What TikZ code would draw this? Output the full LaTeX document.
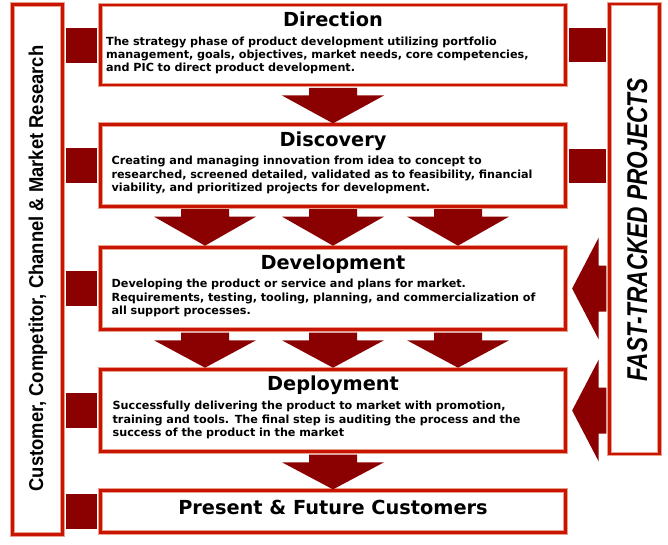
\documentclass[tikz,border=0pt]{standalone}
\usepackage{fontspec}
\setmainfont{DejaVu Sans}
\newfontfamily\labelfont{Liberation Sans}
\usetikzlibrary{calc}
\definecolor{linkred}{RGB}{139,0,0}
\definecolor{edgered}{RGB}{200,20,0}
\definecolor{edgepink}{RGB}{232,160,140}

\begin{document}
\begin{tikzpicture}[x=0.75pt,y=-0.75pt]
        % Define styles for shapes
        \tikzstyle{stagebox} = [draw=edgepink, double=edgered, double distance=2.2pt, line width=0.7pt, fill=white, minimum width=349pt, inner sep=0pt]
        \tikzstyle{sidebar} = [stagebox, minimum width=38pt]
        \tikzstyle{titletext} = [font=\bfseries\fontsize{14.5}{16}\selectfont, inner sep=0pt, anchor=base]
        \tikzstyle{bodytext} = [font=\bfseries\fontsize{8.4}{10}\selectfont, inner sep=0pt, anchor=north west, text width=340pt, align=left]
        \tikzstyle{linkbar} = [fill=linkred]
        \useasboundingbox (0,0) rectangle (668,544);

        % Draw bars and stages
        \node[sidebar, minimum height=398pt] (market) at (37.5,269.5) {};
        \node[sidebar, minimum height=337.5pt] (fast) at (634.5,229) {};
        \node[stagebox, minimum height=60pt] (dir) at (333,45) {};
        \node[stagebox, minimum height=61pt] (disc) at (333,165.5) {};
        \node[stagebox, minimum height=62pt] (dev) at (333,288.5) {};
        \node[stagebox, minimum height=62pt] (dep) at (333,410.5) {};
        \node[stagebox, minimum height=31pt] (cust) at (333,511.5) {};

        % Texts
        \node[titletext] (dirtitle) at ($(dir.north)+(0,22)$) {Direction};
        \node[bodytext] (dirtext) at ($(dir.north west)+(6,31.7)$) {
            The strategy phase of product development utilizing portfolio\\
            management, goals, objectives, market needs, core competencies,\\
            and PIC to direct product development.};
        \node[titletext] (disctitle) at ($(disc.north)+(0,22)$) {Discovery};
        \node[bodytext] (disctext) at ($(disc.north west)+(11.5,31.7)$) {
            Creating and managing innovation from idea to concept to\\
            researched, screened detailed, validated as to feasibility, financial\\
            viability, and prioritized projects for development.};
        \node[titletext] (devtitle) at ($(dev.north)+(0,23)$) {Development};
        \node[bodytext] (devtext) at ($(dev.north west)+(11.5,32.3)$) {
            Developing the product or service and plans for market.\\
            Requirements, testing, tooling, planning, and commercialization of\\
            all support processes.};
        \node[titletext] (deptitle) at ($(dep.north)+(0,22)$) {Deployment};
        \node[bodytext] (deptext) at ($(dep.north west)+(12.5,32.3)$) {
            Successfully delivering the product to market with promotion,\\
            training and tools. The final step is auditing the process and the\\
            success of the product in the market};
        \node[titletext] (custtitle) at ($(cust.north)+(0,24)$) {Present \& Future Customers};

        \node[rotate=90, anchor=base, inner sep=0pt, font=\labelfont\bfseries\fontsize{15}{18}\selectfont] (marketlabel) at ($(market.center)+(5.5,-1)$)
            {\scalebox{0.92}[1]{Customer, Competitor, Channel \& Market Research}};
        \node[rotate=90, anchor=base, inner sep=0pt, font=\labelfont\bfseries\itshape\fontsize{21.5}{24}\selectfont] (fastlabel) at ($(fast.center)+(12.5,1)$)
            {\scalebox{0.79}[1]{FAST-TRACKED PROJECTS}};

        % Draw links
        \foreach \stage in {dir,disc,dev,dep,cust}
            \fill[linkbar] ($(market.east |- \stage.center)+(2.4,-17.5)$) rectangle ($(\stage.west)+(-2.4,17.5)$);
        \foreach \stage in {dir,disc}
            \fill[linkbar] ($(\stage.east)+(2.4,-17)$) rectangle ($(fast.west |- \stage.center)+(-2.4,17)$);

        % Draw arrows
        \foreach \stage in {dev,dep}
            \fill[linkbar] ($(\stage.east)+(6,0)$) -- ($(fast.west |- \stage.east)+(-10,-51)$)
                -- ($(fast.west |- \stage.east)+(-10,-23)$) -- ($(fast.west |- \stage.east)+(-2.4,-23)$)
                -- ($(fast.west |- \stage.east)+(-2.4,23)$) -- ($(fast.west |- \stage.east)+(-10,23)$)
                -- ($(fast.west |- \stage.east)+(-10,51)$) -- cycle;
        \foreach \upper/\lower/\dx in {dir/disc/0, disc/dev/-128, disc/dev/0, disc/dev/125, dev/dep/-128, dev/dep/0, dev/dep/125, dep/cust/0}
            \fill[linkbar] ($(\upper.south)+(\dx-24,2.4)$) -- ($(\upper.south)+(\dx-24,10)$)
                -- ($(\upper.south)+(\dx-51,10)$) -- ($(\lower.north)+(\dx,-1)$)
                -- ($(\upper.south)+(\dx+51,10)$) -- ($(\upper.south)+(\dx+24,10)$)
                -- ($(\upper.south)+(\dx+24,2.4)$) -- cycle;
    \end{tikzpicture}
\end{document}
